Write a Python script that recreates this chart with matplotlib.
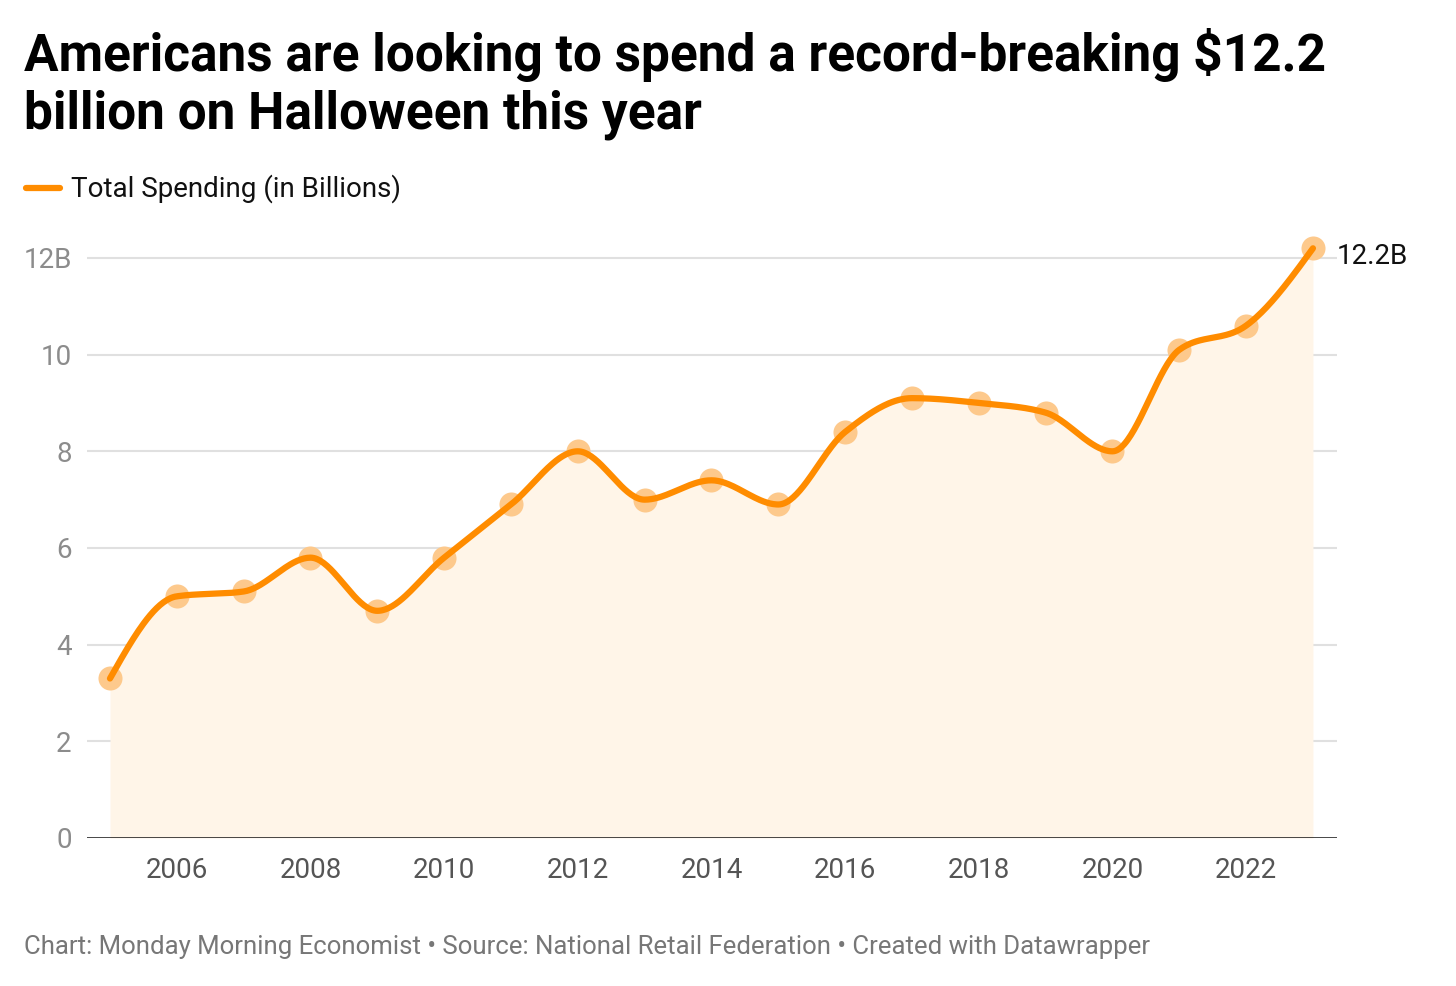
import numpy as np
import matplotlib
matplotlib.use("Agg")
import matplotlib.pyplot as plt

years = [2005, 2006, 2007, 2008, 2009, 2010, 2011, 2012, 2013, 2014,
         2015, 2016, 2017, 2018, 2019, 2020, 2021, 2022, 2023]
spending = [3.3, 5.0, 5.1, 5.8, 4.7, 5.8, 6.9, 8.0, 7.0, 7.4,
            6.9, 8.4, 9.1, 9.0, 8.8, 8.0, 10.1, 10.6, 12.2]
y_ticks = [0, 2, 4, 6, 8, 10, 12]
y_tick_labels = ["0", "2", "4", "6", "8", "10", "12B"]
x_ticks = [2006, 2008, 2010, 2012, 2014, 2016, 2018, 2020, 2022]

ORANGE = "#ff8c00"
DOT = "#fdc98c"
FILL = "#fff5e8"

plt.rcParams["font.family"] = ["Roboto", "DejaVu Sans"]


def monotone_x(x, y, n=40):
    # d3.curveMonotoneX style smoothing (rendering only)
    x = np.asarray(x, float); y = np.asarray(y, float)
    h = np.diff(x); s = np.diff(y) / h
    t = np.zeros_like(y)
    for i in range(1, len(y) - 1):
        p = (s[i - 1] * h[i] + s[i] * h[i - 1]) / (h[i - 1] + h[i])
        t[i] = (np.sign(s[i - 1]) + np.sign(s[i])) * min(abs(s[i - 1]), abs(s[i]), 0.5 * abs(p))
    t[0] = (3 * s[0] - t[1]) / 2
    t[-1] = (3 * s[-1] - t[-2]) / 2
    xs, ys = [], []
    for i in range(len(h)):
        u = np.linspace(0, 1, n, endpoint=(i == len(h) - 1))
        h00 = 2 * u**3 - 3 * u**2 + 1
        h10 = u**3 - 2 * u**2 + u
        h01 = -2 * u**3 + 3 * u**2
        h11 = u**3 - u**2
        xs.append(x[i] + u * h[i])
        ys.append(h00 * y[i] + h10 * h[i] * t[i] + h01 * y[i + 1] + h11 * h[i] * t[i + 1])
    return np.concatenate(xs), np.concatenate(ys)


fig = plt.figure(figsize=(14.56, 9.86), dpi=100)
ax = fig.add_axes([87 / 1456, 1 - 838 / 986, (1337 - 87) / 1456, (838 - 233.8) / 986])

sx, sy = monotone_x(years, spending)
ax.fill_between(sx, 0, sy, color=FILL, lw=0, zorder=1)
ax.scatter(years, spending, s=300, color=DOT, lw=0, zorder=2)
ax.plot(sx, sy, color=ORANGE, lw=4.5, solid_capstyle="round", zorder=3)

ax.set_xlim(2004.656, 2023.36)
ax.set_ylim(0, 12.5)
for yt in y_ticks[1:]:
    ax.axhline(yt, color="#e0e0e0", lw=1.5, zorder=0)
ax.axhline(0, color="#111111", lw=1.8, zorder=4)
for sp in ax.spines.values():
    sp.set_visible(False)

ax.set_yticks(y_ticks)
ax.set_yticklabels(y_tick_labels)
ax.set_xticks(x_ticks)
ax.tick_params(axis="both", length=0, labelsize=20)
ax.tick_params(axis="y", colors="#8c8c8c", pad=11)
ax.tick_params(axis="x", colors="#555555", pad=14)

ax.annotate(f"{spending[-1]:.1f}B", (years[-1], spending[-1]), xytext=(17, -6),
            textcoords="offset points", fontsize=20, color="#111111", va="center")

fig.text(24 / 1456, 1 - 28 / 986,
         "Americans are looking to spend a record-breaking $12.2\nbillion on Halloween this year",
         fontsize=37, fontweight="bold", color="#000000", va="top", ha="left", linespacing=1.18)

fig.add_artist(plt.Line2D([26 / 1456, 60 / 1456], [1 - 188 / 986] * 2, color=ORANGE, lw=4.5,
                          solid_capstyle="round"))
fig.text(71 / 1456, 1 - 189 / 986, "Total Spending (in Billions)", fontsize=20,
         color="#111111", va="center", ha="left")

fig.text(24 / 1456, 1 - 947 / 986,
         "Chart: Monday Morning Economist \u2022 Source: National Retail Federation \u2022 Created with Datawrapper",
         fontsize=18.5, color="#777777", va="center", ha="left")

fig.savefig("out.png", dpi=100, facecolor="white")
